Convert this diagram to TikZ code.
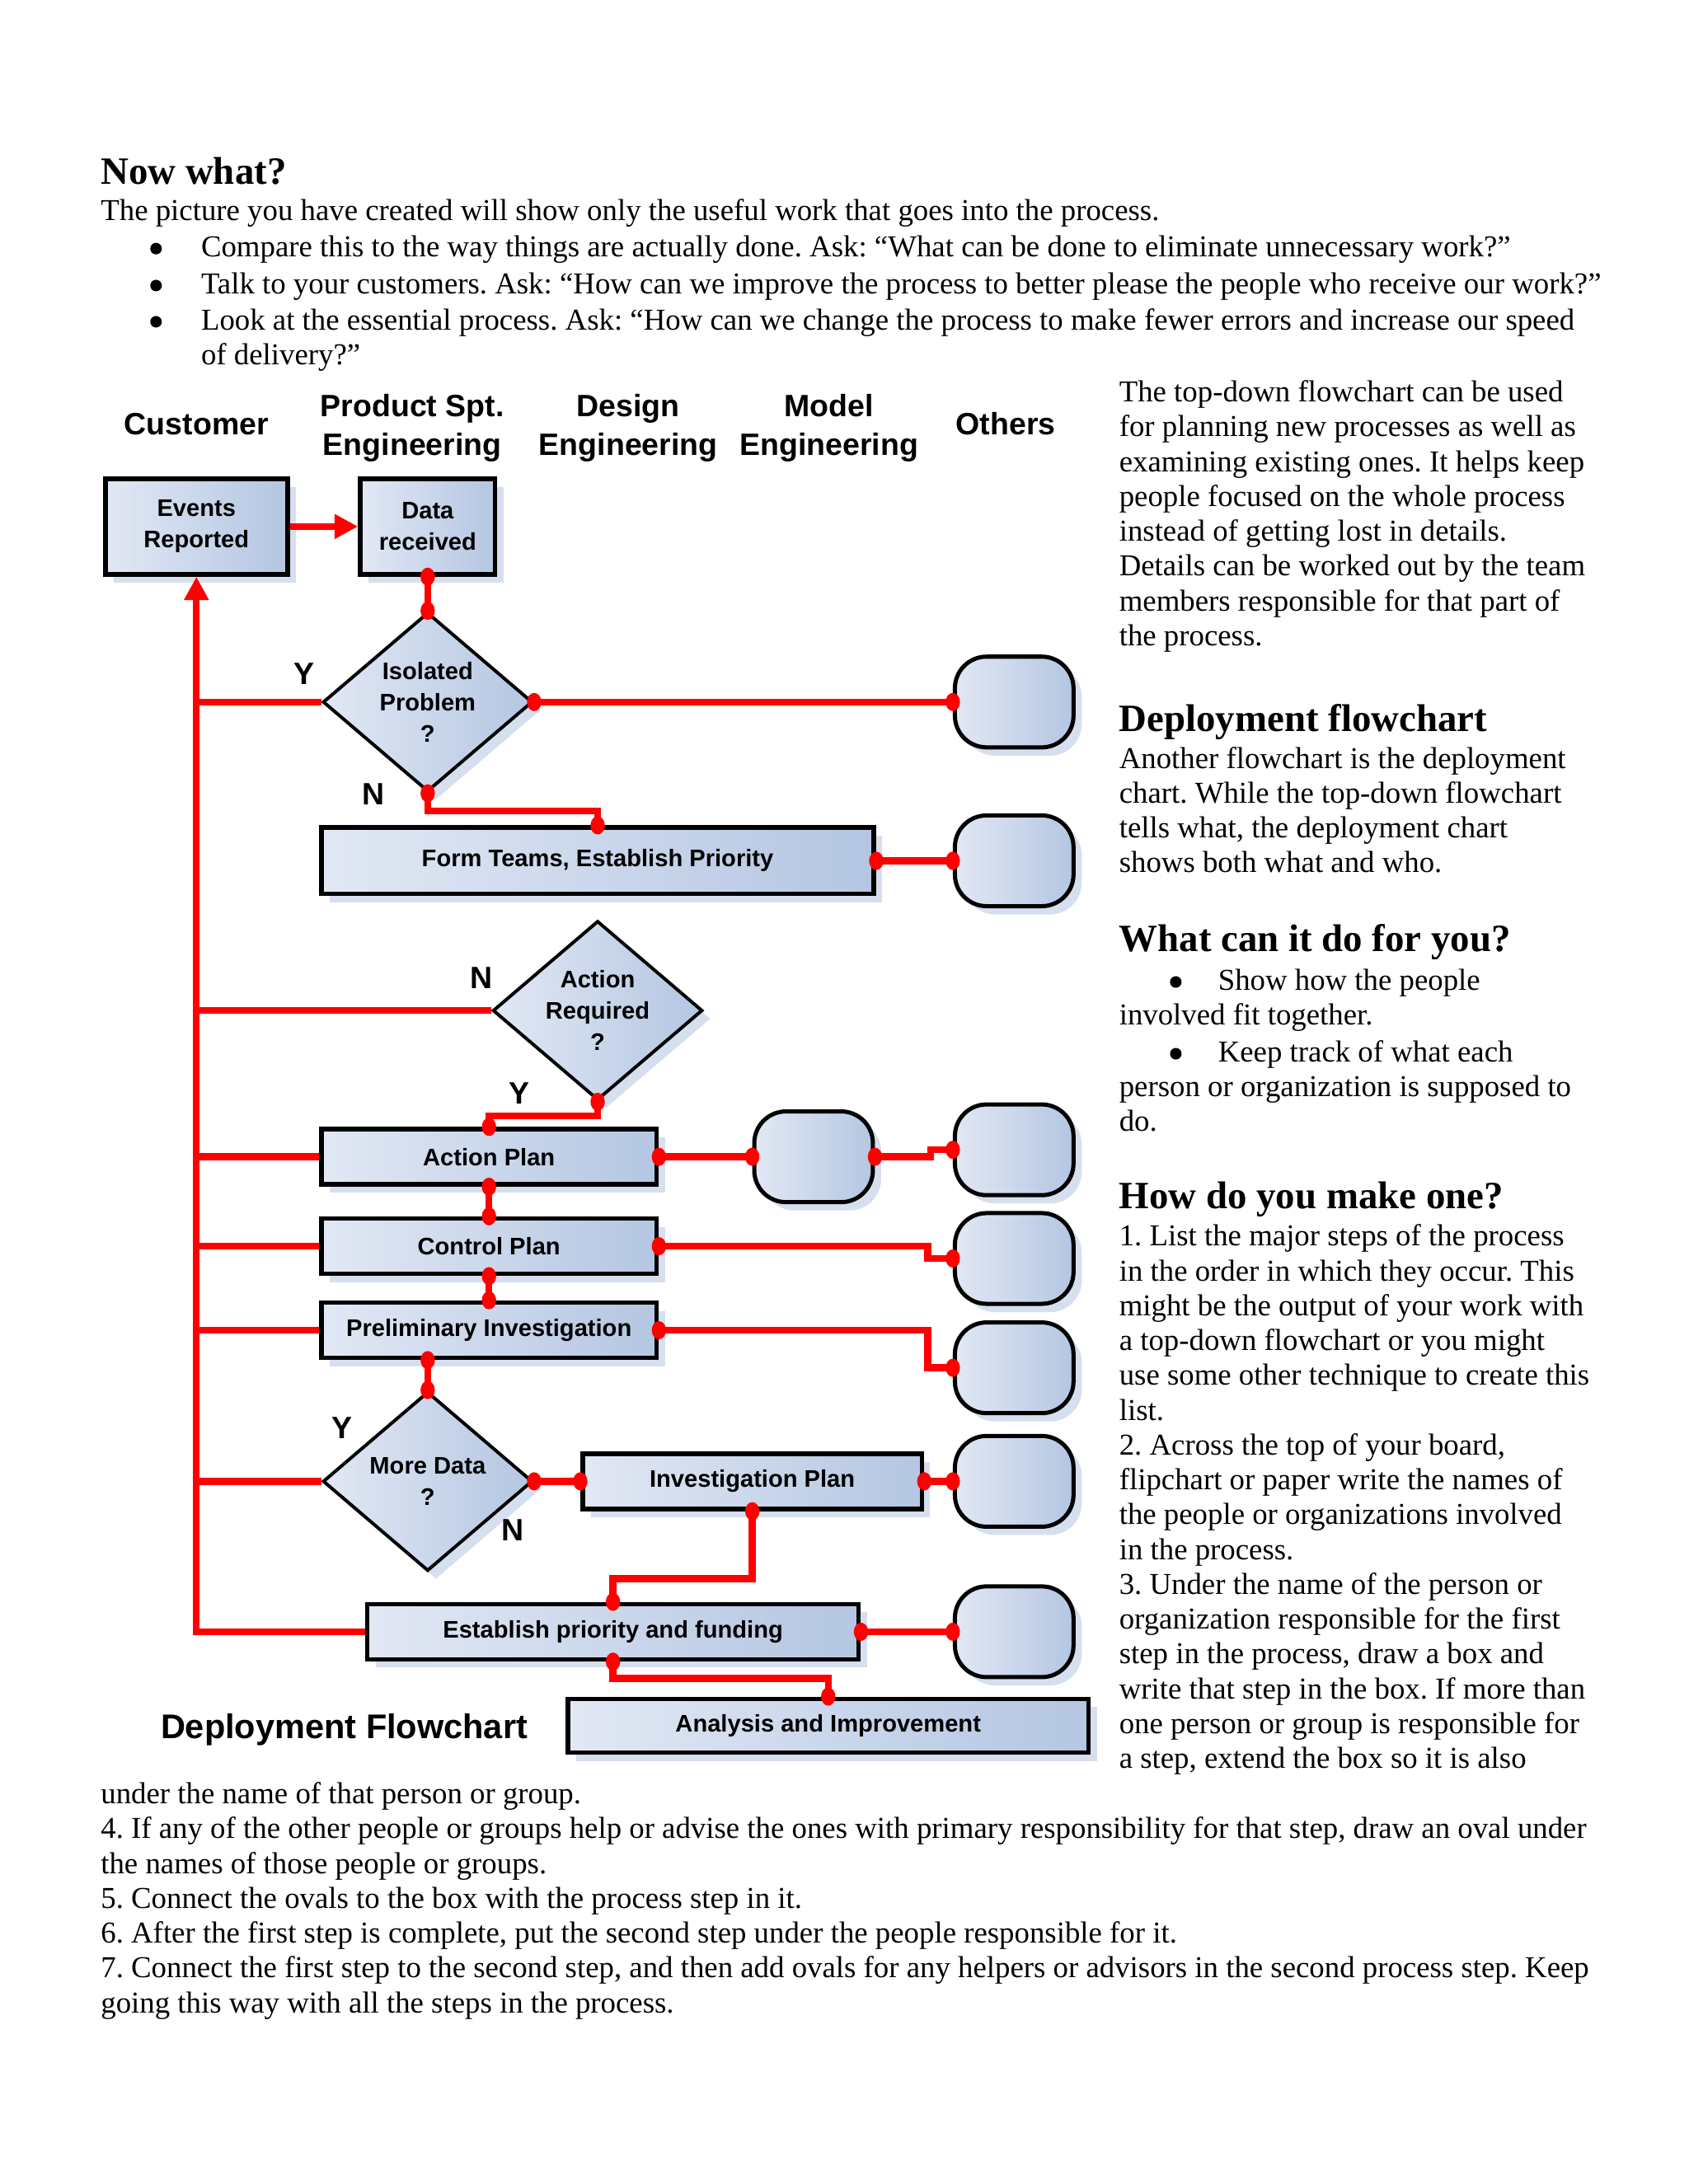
\documentclass[tikz,border=0pt]{standalone}
\usepackage{fontspec}
\setmainfont{Liberation Serif}
\setsansfont{Liberation Sans}
\usetikzlibrary{shapes.geometric,shadows,arrows.meta,calc}
\definecolor{lnred}{RGB}{255,0,0}
\definecolor{bxlight}{RGB}{226,232,244}
\definecolor{bxdark}{RGB}{180,198,226}
\definecolor{shblue}{RGB}{214,223,238}
\newcommand\myBody{\fontsize{11pt}{12.6pt}\selectfont}
\newcommand\myHead{\fontsize{14pt}{16pt}\selectfont\bfseries}
\newcommand\myCol{\fontsize{11.2pt}{14pt}\selectfont\sffamily\bfseries}
\newcommand\myBox{\fontsize{8.7pt}{11.3pt}\selectfont\sffamily\bfseries}
\newcommand\myTitle{\fontsize{12.4pt}{14pt}\selectfont\sffamily\bfseries}
\frenchspacing
\begin{document}
\frenchspacing
\begin{tikzpicture}[x=0.505pt,y=-0.505pt,
  body/.style={anchor=base west, inner sep=0pt, font=\myBody},
  bul/.style={circle, fill=black, inner sep=0pt, minimum size=4.2pt},
  head/.style={anchor=base west, inner sep=0pt, font=\myHead},
  colhd/.style={anchor=base, inner sep=0pt, font=\myCol},
  yn/.style={inner sep=0pt, font=\myCol},
  shad/.style={drop shadow={shadow xshift=3pt, shadow yshift=-3pt, fill=shblue, opacity=1}},
  stepbox/.style={draw=black, line width=1.7pt, left color=bxlight, right color=bxdark, shad, font=\myBox, align=center, inner sep=0pt},
  decide/.style={diamond, draw=black, line width=1.2pt, left color=bxlight, right color=bxdark, shad, inner sep=0pt, minimum width=76pt, minimum height=65pt},
  dtext/.style={font=\myBox, align=center, inner sep=0pt},
  helper/.style={rectangle, rounded corners=11.5pt, draw=black, line width=1.5pt, left color=bxlight, right color=bxdark, shad, minimum width=43pt, minimum height=32.9pt, inner sep=0pt},
  link/.style={draw=lnred, line width=2.5pt},
  tip/.style={-{Triangle[length=8.5pt,width=8.5pt]}}
]
\fill[white] (0,0) rectangle (1212,1568);
\useasboundingbox (0,0) rectangle (1212,1568);

% ---------- top text ----------
\node[head] (nowwhat) at (72,132) {Now what?};
\node[body] (top0) at (72,158) {The picture you have created will show only the useful work that goes into the process.};
\node[bul] (tb1) at (112,178.5) {};
\node[body] (top1) at (144,184.5) {Compare this to the way things are actually done. Ask: “What can be done to eliminate unnecessary work?”};
\node[bul] (tb2) at (112,205) {};
\node[body] (top2) at (144,211) {Talk to your customers. Ask: “How can we improve the process to better please the people who receive our work?”};
\node[bul] (tb3) at (112,231) {};
\node[body] (top3) at (144,237) {Look at the essential process. Ask: “How can we change the process to make fewer errors and increase our speed};
\node[body] (top4) at (144,262) {of delivery?”};

% ---------- right column ----------
\foreach \t [count=\i from 0] in {{The top-down flowchart can be used},{for planning new processes as well as},{examining existing ones. It helps keep},{people focused on the whole process},{instead of getting lost in details.},{Details can be worked out by the team},{members responsible for that part of},{the process.}}
  \node[body] (ra\i) at (803,{288.5+25*\i}) {\t};
\node[head] (hdep) at (803,525) {Deployment flowchart};
\foreach \t [count=\i from 0] in {{Another flowchart is the deployment},{chart. While the top-down flowchart},{tells what, the deployment chart},{shows both what and who.}}
  \node[body] (rb\i) at (803,{551.5+25*\i}) {\t};
\node[head] (hwhat) at (803,683) {What can it do for you?};
\node[bul] (rbul1) at (844,705) {};
\node[body] (rw1) at (874,711) {Show how the people};
\node[body] (rw2) at (803,736) {involved fit together.};
\node[bul] (rbul2) at (844,756.5) {};
\node[body] (rw3) at (874,762.5) {Keep track of what each};
\node[body] (rw4) at (803,787.5) {person or organization is supposed to};
\node[body] (rw5) at (803,812) {do.};
\node[head] (hhow) at (803,868) {How do you make one?};
\foreach \t [count=\i from 0] in {{1. List the major steps of the process},{in the order in which they occur. This},{might be the output of your work with},{a top-down flowchart or you might},{use some other technique to create this},{list.},{2. Across the top of your board,},{flipchart or paper write the names of},{the people or organizations involved},{in the process.},{3. Under the name of the person or},{organization responsible for the first},{step in the process, draw a box and},{write that step in the box. If more than},{one person or group is responsible for},{a step, extend the box so it is also}}
  \node[body] (rc\i) at (803,{894.5+25*\i}) {\t};

% ---------- bottom text ----------
\foreach \t [count=\i from 0] in {{under the name of that person or group.},{4. If any of the other people or groups help or advise the ones with primary responsibility for that step, draw an oval under},{the names of those people or groups.},{5. Connect the ovals to the box with the process step in it.},{6. After the first step is complete, put the second step under the people responsible for it.},{7. Connect the first step to the second step, and then add ovals for any helpers or advisors in the second process step. Keep},{going this way with all the steps in the process.}}
  \node[body] (bd\i) at (72,{1295+25*\i}) {\t};

% ---------- column headers ----------
\node[colhd] (hcust) at (141,312) {Customer};
\node[colhd] (hpse1) at (296,299) {Product Spt.};
\node[colhd] (hpse2) at (296,327) {Engineering};
\node[colhd] (hde1) at (451,299) {Design};
\node[colhd] (hde2) at (451,327) {Engineering};
\node[colhd] (hme1) at (595,299) {Model};
\node[colhd] (hme2) at (595,327) {Engineering};
\node[colhd] (hoth) at (722,312) {Others};

% ---------- flowchart nodes ----------
\node[stepbox, minimum width=66pt, minimum height=34.7pt] (ev) at (141,378) {Events\\Reported};
\node[stepbox, minimum width=48.8pt, minimum height=34.7pt] (dr) at (307,378) {Data\\received};
\node[decide] (iso) at (307,504) {};
\node[dtext] (isot) at (iso.center) {Isolated\\Problem\\?};
\node[stepbox, minimum width=200.3pt, minimum height=24pt] (ft) at (429,618) {Form Teams, Establish Priority};
\node[decide] (act) at (429,725.5) {};
\node[dtext] (actt) at (act.center) {Action\\Required\\?};
\node[stepbox, minimum width=121.5pt, minimum height=20pt] (ap) at (351,830.5) {Action Plan};
\node[stepbox, minimum width=121.5pt, minimum height=20pt] (cp) at (351,894.7) {Control Plan};
\node[stepbox, minimum width=121.5pt, minimum height=20pt] (pi) at (351,955) {Preliminary Investigation};
\node[decide] (md) at (307,1063.5) {};
\node[dtext] (mdt) at (md.center) {More Data\\?};
\node[stepbox, minimum width=123pt, minimum height=20pt] (ip) at (540,1063.5) {Investigation Plan};
\node[stepbox, minimum width=178.1pt, minimum height=20pt] (ep) at (440,1171.5) {Establish priority and funding};
\node[stepbox, minimum width=188.7pt, minimum height=19.5pt] (ai) at (594.5,1239) {Analysis and Improvement};

\node[helper] (o1) at (728,504) {};
\node[helper] (o2) at (728,618) {};
\node[helper] (o3) at (584,830.5) {};
\node[helper] (o4) at (728,825.5) {};
\node[helper] (o5) at (728,903.5) {};
\node[helper] (o6) at (728,982) {};
\node[helper] (o7) at (728,1063.5) {};
\node[helper] (o8) at (728,1171.5) {};

\node[yn] (y1) at (218.6,484) {Y};
\node[yn] (n1) at (268,570) {N};
\node[yn] (n2) at (345.6,702) {N};
\node[yn] (y2) at (372.8,785) {Y};
\node[yn] (y3) at (245.6,1025) {Y};
\node[yn] (n3) at (368,1098.6) {N};

\node[anchor=base west, inner sep=0pt, font=\myTitle] (title) at (115,1248) {Deployment Flowchart};

% ---------- connectors ----------
\draw[link,tip] (ev.east) -- (dr.west);
\draw[link,tip] (ep.west) -| (ev.south);
\draw[link] (dr.south) -- (iso.north);
\draw[link] (iso.west) -- (iso.west -| ev.south);
\draw[link] (iso.east) -- (o1.west);
\draw[link] (iso.south) -- ++(0,12.5) -| (ft.north);
\draw[link] (ft.east) -- (o2.west);
\draw[link] (act.west) -- (act.west -| ev.south);
\draw[link] (act.south) -- ++(0,10) -| (ap.north);
\draw[link] (ap.west) -- (ap.west -| ev.south);
\draw[link] (ap.east) -- (o3.west);
\draw[link] (o3.east) -- ++(40,0) |- (o4.west);
\draw[link] (ap.south) -- (cp.north);
\draw[link] (cp.west) -- (cp.west -| ev.south);
\draw[link] (cp.east) -- ++(193,0) |- (o5.west);
\draw[link] (cp.south) -- (pi.north);
\draw[link] (pi.west) -- (pi.west -| ev.south);
\draw[link] (pi.east) -- ++(193,0) |- (o6.west);
\coordinate (pim) at (pi.south -| md.north);
\draw[link] (pim) -- (md.north);
\draw[link] (md.west) -- (md.west -| ev.south);
\draw[link] (md.east) -- (ip.west);
\draw[link] (ip.east) -- (o7.west);
\draw[link] (ip.south) -- ++(0,48.5) -| (ep.north);
\draw[link] (ep.east) -- (o8.west);
\draw[link] (ep.south) -- ++(0,12) -| (ai.north);

\foreach \p in {dr.south, iso.north, iso.east, o1.west, iso.south, ft.north, ft.east, o2.west,
  act.south, ap.north, ap.east, o3.west, o3.east, o4.west, ap.south, cp.north, cp.east, o5.west,
  cp.south, pi.north, pi.east, o6.west, pim, md.north, md.east, ip.west, ip.east, o7.west,
  ip.south, ep.north, ep.east, o8.west, ep.south, ai.north}
  \fill[lnred] (\p) ellipse [x radius=2.6pt, y radius=3.3pt];
\end{tikzpicture}
\end{document}
